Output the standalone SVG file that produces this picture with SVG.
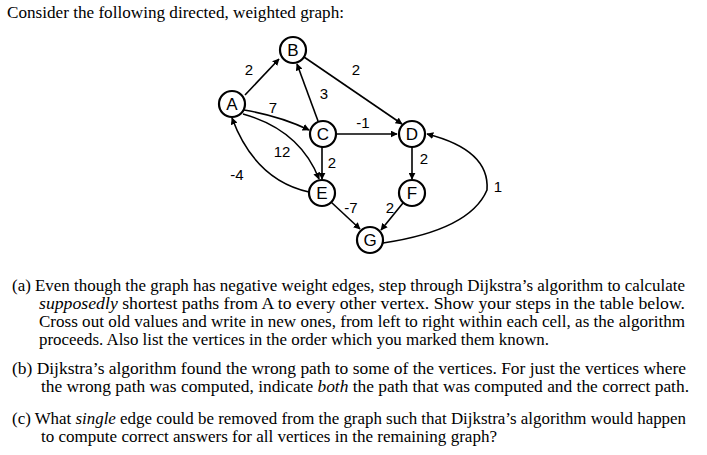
<svg xmlns="http://www.w3.org/2000/svg" width="707" height="455" viewBox="0 0 707 455">
<style>
.n circle{fill:#fff;stroke:#000;stroke-width:2.2}
.n text{font-family:"Liberation Sans",Arial,sans-serif;font-size:17px;text-anchor:middle}
.w{font-family:"Liberation Sans",Arial,sans-serif;font-size:15px;text-anchor:middle}
.e path{fill:none;stroke:#000;stroke-width:1.6;marker-end:url(#ah)}
.t{font-family:"Liberation Serif","Times New Roman",serif;font-size:16px}
</style>
<defs><marker id="ah" viewBox="0 0 10 10" refX="9" refY="5" markerWidth="7" markerHeight="7" orient="auto" markerUnits="userSpaceOnUse"><path d="M0,0L10,5L0,10z"/></marker></defs>
<rect width="707" height="455" fill="#fff"/>
<text class="t" x="7" y="18" textLength="337" lengthAdjust="spacingAndGlyphs">Consider the following directed, weighted graph:</text>
<g class="e" id="edges">
<path d="M245,95 L279,59"/>
<path d="M318,121 L297,64"/>
<path d="M304,57 L402,124"/>
<path d="M244,110 Q280,116 309,130"/>
<path d="M243,114 Q300,130 319,179"/>
<path d="M309,192 Q255,180 232,118"/>
<path d="M336,134 L397,134"/>
<path d="M322,147 L322,179"/>
<path d="M412,147 L412,179"/>
<path d="M331,202 L360,229"/>
<path d="M403,203 L381,230"/>
<path d="M383,243 Q470,230 487,190 Q490,150 427,134"/>
</g>
<g class="w">
<text x="249" y="75">2</text><text x="324" y="99">3</text><text x="356" y="75">2</text>
<text x="273" y="113">7</text><text x="282" y="157">12</text><text x="237" y="180">-4</text>
<text x="363" y="128">-1</text><text x="332" y="168">2</text><text x="424" y="164">2</text>
<text x="351" y="213">-7</text><text x="390" y="213">2</text><text x="498" y="192">1</text>
</g>
<g class="n" id="A"><circle cx="232" cy="104" r="13"/><text x="232" y="110">A</text></g>
<g class="n" id="B"><circle cx="293" cy="50" r="13"/><text x="293" y="56">B</text></g>
<g class="n" id="C"><circle cx="323" cy="134" r="13"/><text x="323" y="140">C</text></g>
<g class="n" id="D"><circle cx="412" cy="134" r="13"/><text x="412" y="140">D</text></g>
<g class="n" id="E"><circle cx="322" cy="193" r="13"/><text x="322" y="199">E</text></g>
<g class="n" id="F"><circle cx="412" cy="193" r="13"/><text x="412" y="199">F</text></g>
<g class="n" id="G"><circle cx="370" cy="240" r="13"/><text x="370" y="246">G</text></g>
<g class="t">
<text x="12" y="291" textLength="673" lengthAdjust="spacingAndGlyphs">(a) Even though the graph has negative weight edges, step through Dijkstra’s algorithm to calculate</text>
<text x="39" y="309" textLength="646" lengthAdjust="spacingAndGlyphs"><tspan font-style="italic">supposedly</tspan> shortest paths from A to every other vertex.  Show your steps in the table below.</text>
<text x="39" y="327" textLength="646" lengthAdjust="spacingAndGlyphs">Cross out old values and write in new ones, from left to right within each cell, as the algorithm</text>
<text x="39" y="345" textLength="510" lengthAdjust="spacingAndGlyphs">proceeds. Also list the vertices in the order which you marked them known.</text>
<text x="12" y="374" textLength="674" lengthAdjust="spacingAndGlyphs">(b) Dijkstra’s algorithm found the wrong path to some of the vertices. For just the vertices where</text>
<text x="41" y="392" textLength="648" lengthAdjust="spacingAndGlyphs">the wrong path was computed, indicate <tspan font-style="italic">both</tspan> the path that was computed and the correct path.</text>
<text x="12" y="424" textLength="674" lengthAdjust="spacingAndGlyphs">(c) What <tspan font-style="italic">single</tspan> edge could be removed from the graph such that Dijkstra’s algorithm would happen</text>
<text x="41" y="442" textLength="456" lengthAdjust="spacingAndGlyphs">to compute correct answers for all vertices in the remaining graph?</text>
</g>
</svg>
